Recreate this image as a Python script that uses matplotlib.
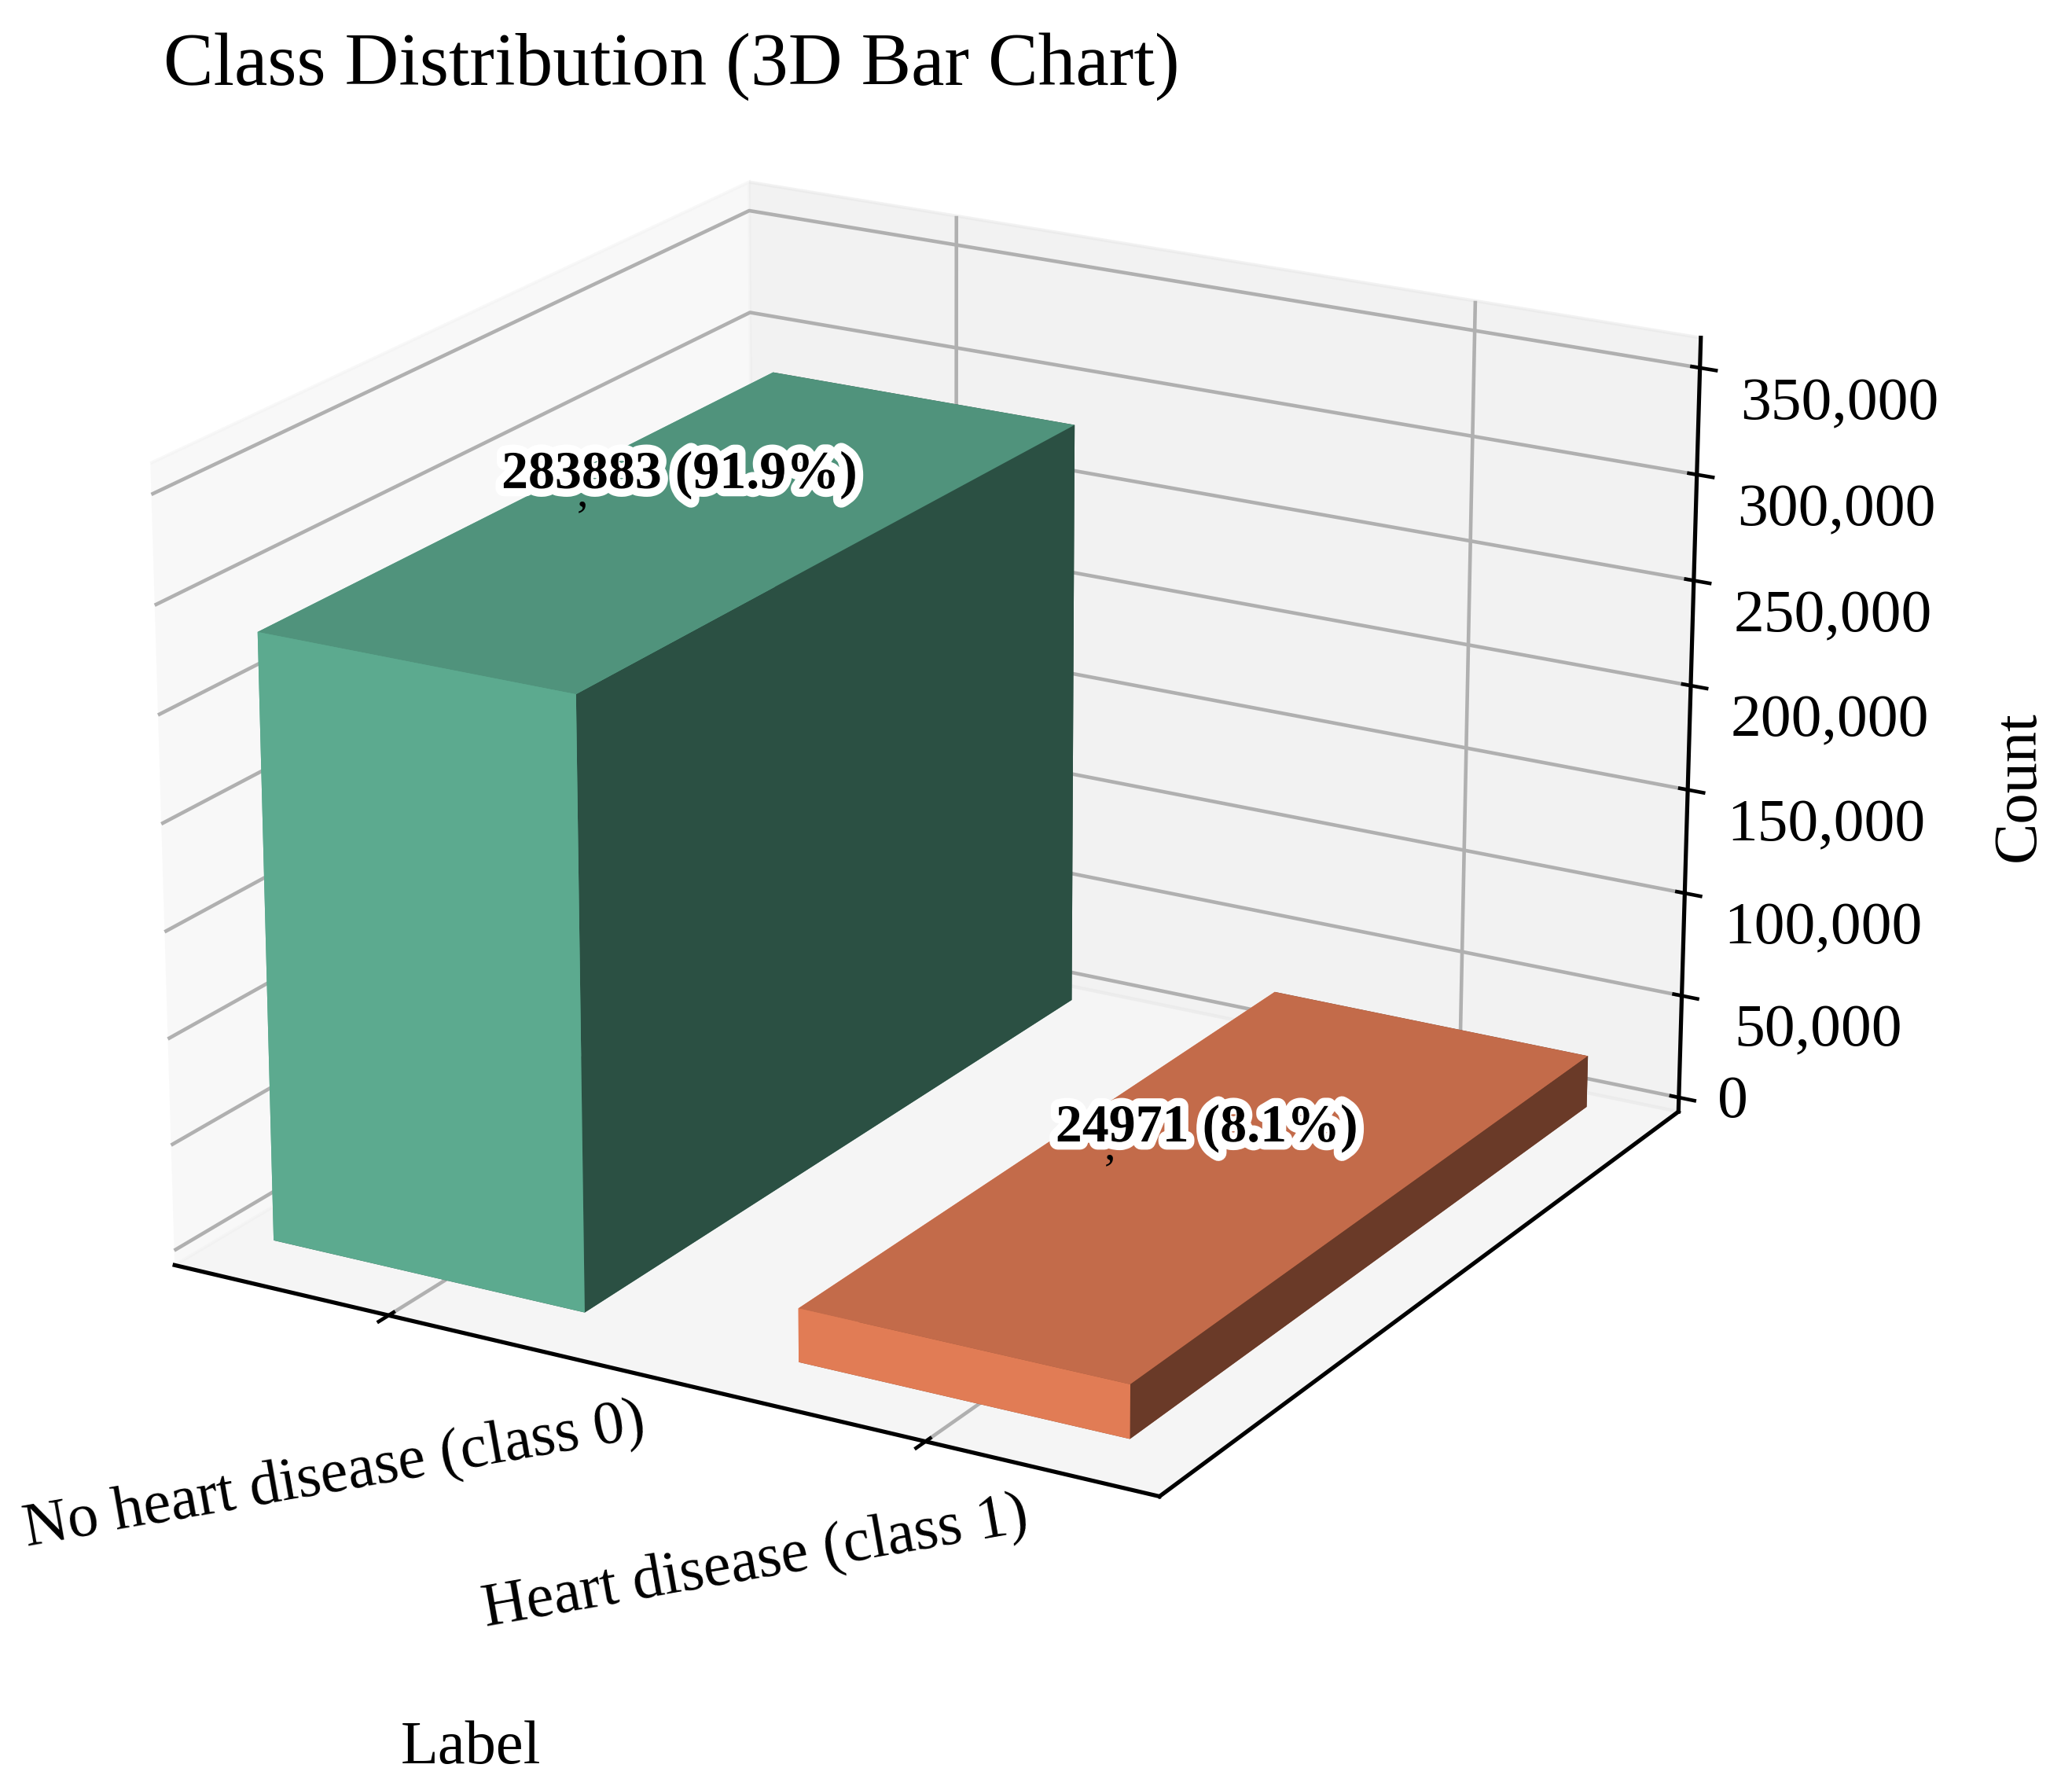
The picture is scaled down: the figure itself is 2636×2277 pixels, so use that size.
import matplotlib
matplotlib.use("Agg")
import matplotlib.pyplot as plt
import matplotlib.patheffects as pe
from matplotlib.transforms import ScaledTranslation
from mpl_toolkits.mplot3d import Axes3D, proj3d

plt.rcParams['font.family'] = ['Liberation Serif', 'DejaVu Serif']
plt.rcParams['axes.linewidth'] = 1.25
plt.rcParams['xtick.major.width'] = 1.1
plt.rcParams['ytick.major.width'] = 1.1
plt.rcParams['grid.linewidth'] = 1.1

categories = ["No heart disease (class 0)", "Heart disease (class 1)"]
counts = [283883, 24971]
shares = [91.9, 8.1]
bar_colors = ["#68c0a2", "#ff8c60"]
positions = [0, 1]
z_ticks = list(range(0, 350001, 50000))

fig = plt.figure(figsize=(8.79, 7.59), dpi=300)
ax = fig.add_axes([0.003, 0.0555, 0.88, 0.97], projection='3d')
ax.view_init(elev=20, azim=-60)


def nudge(artist, dx, dy):
    """Shift a text by (dx, dy) points from where the 3D axis puts it.

    The 3D axis resets text transforms on every draw, so the getter is replaced.
    """
    shift = ScaledTranslation(dx / 72, dy / 72, fig.dpi_scale_trans)
    artist.get_transform = lambda: ax.transData + shift


ax.set_xticks(positions)
ax.set_xticklabels(categories, fontsize=18.8, rotation=10)
ax.set_yticks([])
ax.set_zlim(-7000, 364000)
ax.set_zticks(z_ticks)
ax.set_zticklabels([f"{v:,}" for v in z_ticks], fontsize=18.6, ha='left')
ax.tick_params(axis='x', pad=14)
ax.tick_params(axis='z', pad=6)

ax.xaxis.set_rotate_label(False)
ax.zaxis.set_rotate_label(False)
ax.set_xlabel("Label", fontsize=18.8, labelpad=58, rotation=0)
ax.set_zlabel("Count", fontsize=18.8, labelpad=40, rotation=90)
fig.suptitle("Class Distribution (3D Bar Chart)", fontsize=22.9, x=0.079, y=0.963,
             ha='left', va='center')

halo = [pe.withStroke(linewidth=5, foreground='white')]
for x, c, col in zip(positions, counts, bar_colors):
    ax.bar3d(x - 0.3, -0.3, 0, 0.6, 0.6, c, color=col, shade=True, edgecolor='none')

fig.canvas.draw()

# Per-label placement of the axis texts
for lab, (dx, dy) in zip(ax.get_xticklabels(), [(-1.6, 4.8), (-37.6, 15.6)]):
    nudge(lab, dx, dy)
for v, lab in zip(z_ticks, ax.get_zticklabels()):
    nudge(lab, -6.5 if v == 50000 else -10.5, 4.4 if v == 0 else -4.8)
nudge(ax.xaxis.label, -2.4, -6.8)
nudge(ax.zaxis.label, 2.8, -26)

for x, c in zip(positions, counts):
    z = c + 12000
    ax.text(x, 0, z, f"{c} ({shares[x]}%)", ha='center', va='bottom', fontsize=16.3,
            fontweight='bold', color='black', zorder=10, path_effects=halo)
    # thousands separator sits under the digits, just below the halo
    px, py, _ = proj3d.proj_transform(x, 0, z, ax.get_proj())
    ax.annotate(",", xy=(px, py), xycoords='data', xytext=(-29.5, 1.5),
                textcoords='offset points', ha='center', va='center', fontsize=14,
                color='black', zorder=11)

fig.savefig("out.png", dpi=300)
